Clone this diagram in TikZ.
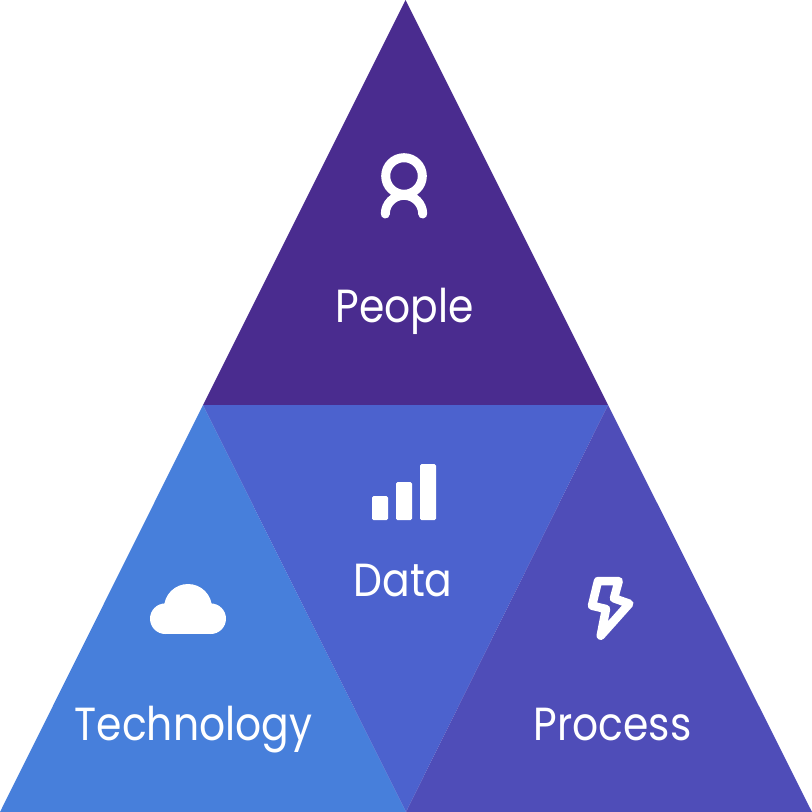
\documentclass[tikz,border=0pt]{standalone}
\usepackage{fontspec}
\setmainfont[FakeStretch=0.88]{Poppins}
\definecolor{peoplecol}{HTML}{4A2C8F}
\definecolor{datacol}{HTML}{4C62CE}
\definecolor{techcol}{HTML}{477FDB}
\definecolor{processcol}{HTML}{4F4DB8}
\tikzset{
  label/.style={text=white, inner sep=0pt, anchor=base, font=\fontsize{13.2pt}{16pt}\selectfont},
  icon/.style={draw=white, line width=0.09cm, line cap=round, line join=round},
  bar/.style={fill=white, rounded corners=0.015cm},
}

\begin{document}
\begin{tikzpicture}[x=0.01cm, y=-0.01cm]
      \useasboundingbox (0,0) rectangle (812,812);
      % triangles
      \fill[peoplecol] (405.5,0) -- (203,405) -- (608,405) -- cycle;
      \fill[techcol] (203,405) -- (0,812) -- (406,812) -- cycle;
      \fill[datacol] (203,405) -- (608,405) -- (406,812) -- cycle;
      \fill[processcol] (608,405) -- (406,812) -- (812,812) -- cycle;

      % person
      \draw[icon] (404,176) circle (18.3);
      \draw[icon] (385.3,214) arc[start angle=180, end angle=360, radius=18.7];
      % bars
      \fill[bar] (372,496) rectangle (388,520);
      \fill[bar] (396,482) rectangle (412,520);
      \fill[bar] (420,464) rectangle (436,520);
      % cloud
      \fill[white] (188,608) circle (24);
      \fill[white] (165.3,618.7) circle (15.3);
      \fill[white] (210.7,618.7) circle (15.3);
      \fill[white] (165.3,615) rectangle (210.7,634);
      % bolt
      \draw[icon, line width=0.085cm] (598,581) -- (618.7,581) -- (614,598.3) -- (629.3,603.7)
        -- (600.7,635.7) -- (606,609) -- (592,605.7) -- cycle;

      % labels
      \node[label] (people) at (404.5,322) {People};
      \node[label] (data) at (403,596) {Data};
      \node[label] (technology) at (193.5,740) {Technology};
      \node[label] (process) at (612.5,740) {Process};
    \end{tikzpicture}
\end{document}
